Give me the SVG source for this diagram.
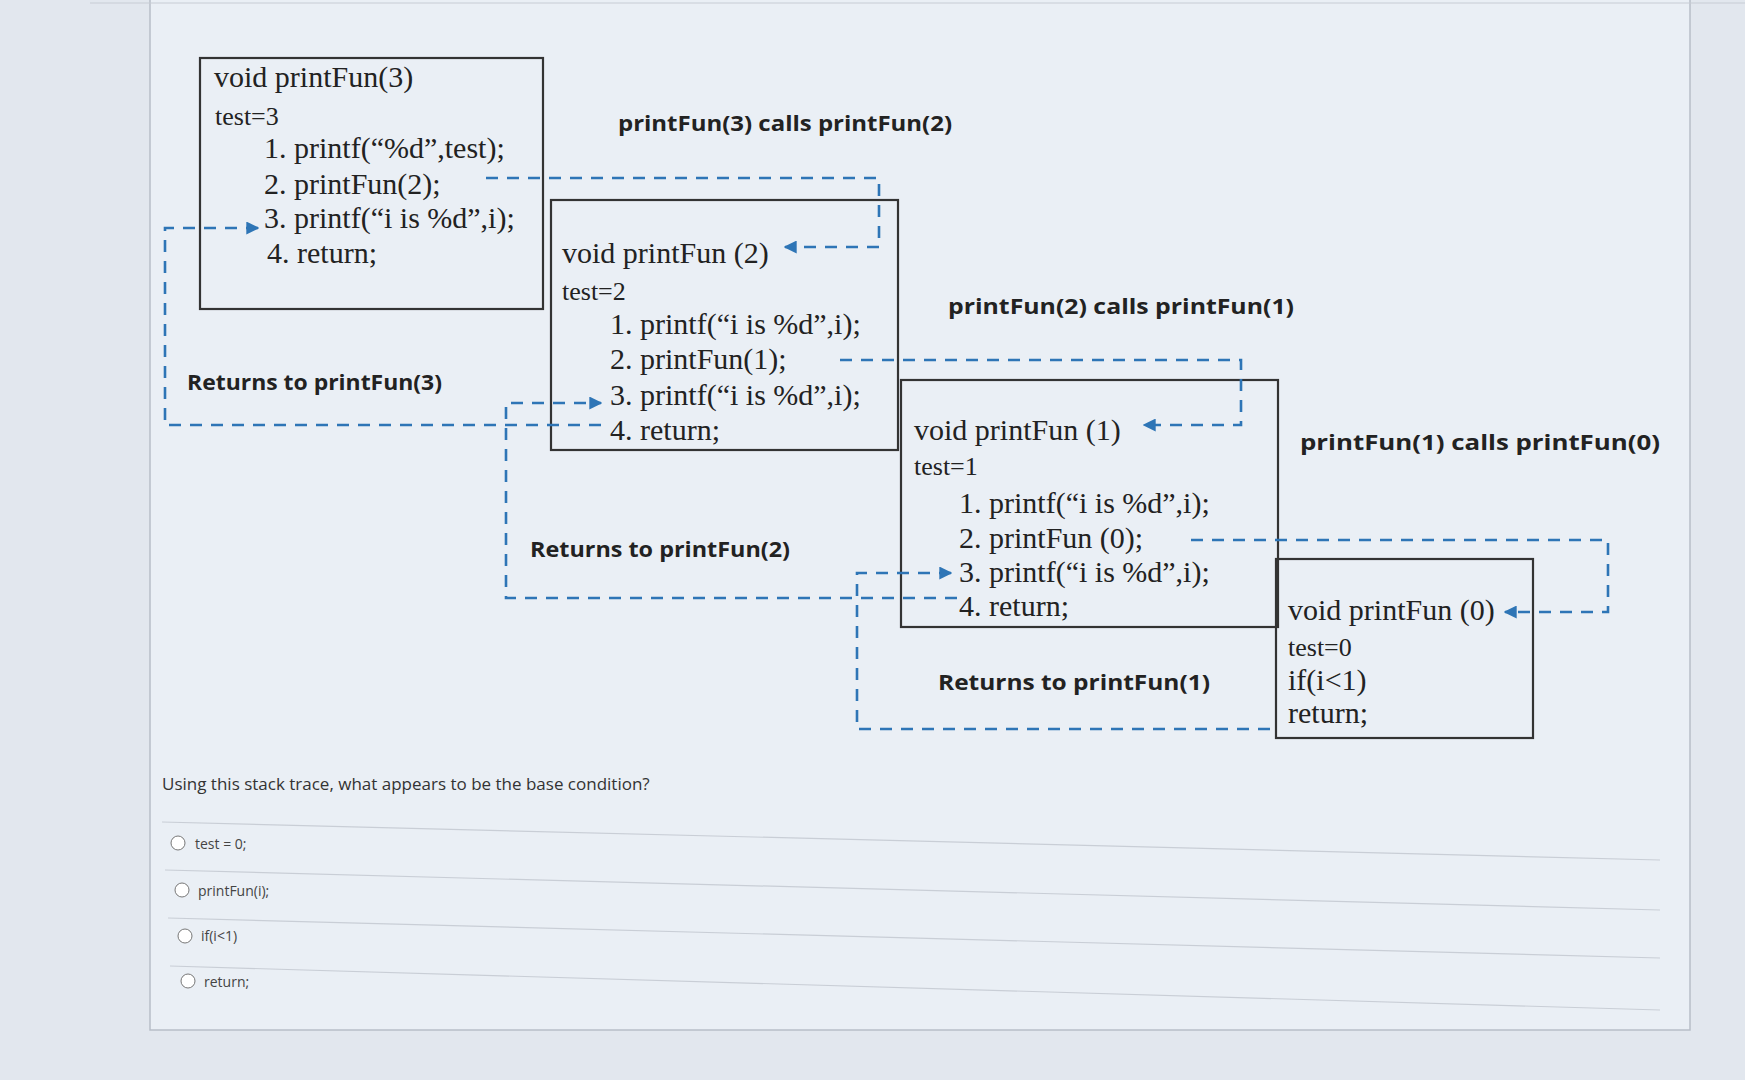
<svg xmlns="http://www.w3.org/2000/svg" width="1745" height="1080" viewBox="0 0 1745 1080">
<defs>
<style>
.box{fill:none;stroke:#333;stroke-width:2.2}
.c{font-family:"Liberation Serif",serif;fill:#222;font-size:30px}
.t{font-family:"Liberation Serif",serif;fill:#222;font-size:26px}
.l{font-family:"Open Sans","Liberation Sans",sans-serif;font-weight:bold;fill:#222;font-size:22px}
.q{font-family:"Open Sans","Liberation Sans",sans-serif;fill:#333;font-size:17px}
.o{font-family:"Open Sans","Liberation Sans",sans-serif;fill:#444;font-size:14px}
.d{fill:none;stroke:#2e75b6;stroke-width:2.6;stroke-dasharray:12 9}
.rule{stroke:#c9ced6;stroke-width:1.2}
</style>
<marker id="ah" viewBox="0 0 10 10" refX="9" refY="5" markerWidth="5" markerHeight="5" orient="auto"><path d="M0,0L10,5L0,10z" fill="#2e75b6"/></marker>
</defs>
<rect width="1745" height="1080" fill="#e2e7ee"/>
<path d="M150,0 V1030 H1690 V0" fill="#eaeff5" stroke="#b8bec8" stroke-width="1.5"/>
<line x1="90" y1="3" x2="1745" y2="3" stroke="#c7ccd4"/>
<g id="node-pf3">
<rect class="box" x="200" y="58" width="343" height="251"/>
<text class="c" x="214" y="87">void printFun(3)</text>
<text class="t" x="215" y="125">test=3</text>
<text class="c" x="264" y="158">1. printf(“%d”,test);</text>
<text class="c" x="264" y="194">2. printFun(2);</text>
<text class="c" x="264" y="228">3. printf(“i is %d”,i);</text>
<text class="c" x="267" y="263">4. return;</text>
</g>
<g id="node-pf2">
<rect class="box" x="551" y="200" width="347" height="250"/>
<text class="c" x="562" y="263">void printFun (2)</text>
<text class="t" x="562" y="300">test=2</text>
<text class="c" x="610" y="334">1. printf(“i is %d”,i);</text>
<text class="c" x="610" y="369">2. printFun(1);</text>
<text class="c" x="610" y="405">3. printf(“i is %d”,i);</text>
<text class="c" x="610" y="440">4. return;</text>
</g>
<g id="node-pf1">
<rect class="box" x="901" y="380" width="377" height="247"/>
<text class="c" x="914" y="440">void printFun (1)</text>
<text class="t" x="914" y="475">test=1</text>
<text class="c" x="959" y="513">1. printf(“i is %d”,i);</text>
<text class="c" x="959" y="548">2. printFun (0);</text>
<text class="c" x="959" y="582">3. printf(“i is %d”,i);</text>
<text class="c" x="959" y="616">4. return;</text>
</g>
<g id="node-pf0">
<rect class="box" x="1276" y="559" width="257" height="179"/>
<text class="c" x="1288" y="620">void printFun (0)</text>
<text class="t" x="1288" y="656">test=0</text>
<text class="c" x="1288" y="690">if(i&lt;1)</text>
<text class="c" x="1288" y="723">return;</text>
</g>
<g id="connectors">
<path class="d" d="M486,178 H879 V247 H785" marker-end="url(#ah)"/>
<path class="d" d="M601,425 H165 V228 H258" marker-end="url(#ah)"/>
<path class="d" d="M840,360 H1241 V425 H1144" marker-end="url(#ah)"/>
<path class="d" d="M957,598 H506 V403 H601" marker-end="url(#ah)"/>
<path class="d" d="M1191,540 H1608 V612 H1505" marker-end="url(#ah)"/>
<path class="d" d="M1270,729 H857 V573 H951" marker-end="url(#ah)"/>
</g>
<g id="labels">
<text class="l" x="618" y="131" textLength="334" lengthAdjust="spacingAndGlyphs">printFun(3) calls printFun(2)</text>
<text class="l" x="948" y="314" textLength="346" lengthAdjust="spacingAndGlyphs">printFun(2) calls printFun(1)</text>
<text class="l" x="1300" y="450" textLength="360" lengthAdjust="spacingAndGlyphs">printFun(1) calls printFun(0)</text>
<text class="l" x="187" y="390" textLength="255" lengthAdjust="spacingAndGlyphs">Returns to printFun(3)</text>
<text class="l" x="530" y="557" textLength="260" lengthAdjust="spacingAndGlyphs">Returns to printFun(2)</text>
<text class="l" x="938" y="690" textLength="272" lengthAdjust="spacingAndGlyphs">Returns to printFun(1)</text>
</g>
<g id="question">
<text class="q" x="162" y="790">Using this stack trace, what appears to be the base condition?</text>
<line class="rule" x1="162" y1="822" x2="1660" y2="860"/>
<line class="rule" x1="165" y1="870" x2="1660" y2="910"/>
<line class="rule" x1="168" y1="918" x2="1660" y2="958"/>
<line class="rule" x1="170" y1="966" x2="1660" y2="1010"/>
<circle cx="178" cy="843" r="7" fill="#fff" stroke="#777"/>
<text class="o" x="195" y="849">test = 0;</text>
<circle cx="182" cy="890" r="7" fill="#fff" stroke="#777"/>
<text class="o" x="198" y="896">printFun(i);</text>
<circle cx="185" cy="936" r="7" fill="#fff" stroke="#777"/>
<text class="o" x="201" y="941">if(i&lt;1)</text>
<circle cx="188" cy="981" r="7" fill="#fff" stroke="#777"/>
<text class="o" x="204" y="987">return;</text>
</g>
</svg>
